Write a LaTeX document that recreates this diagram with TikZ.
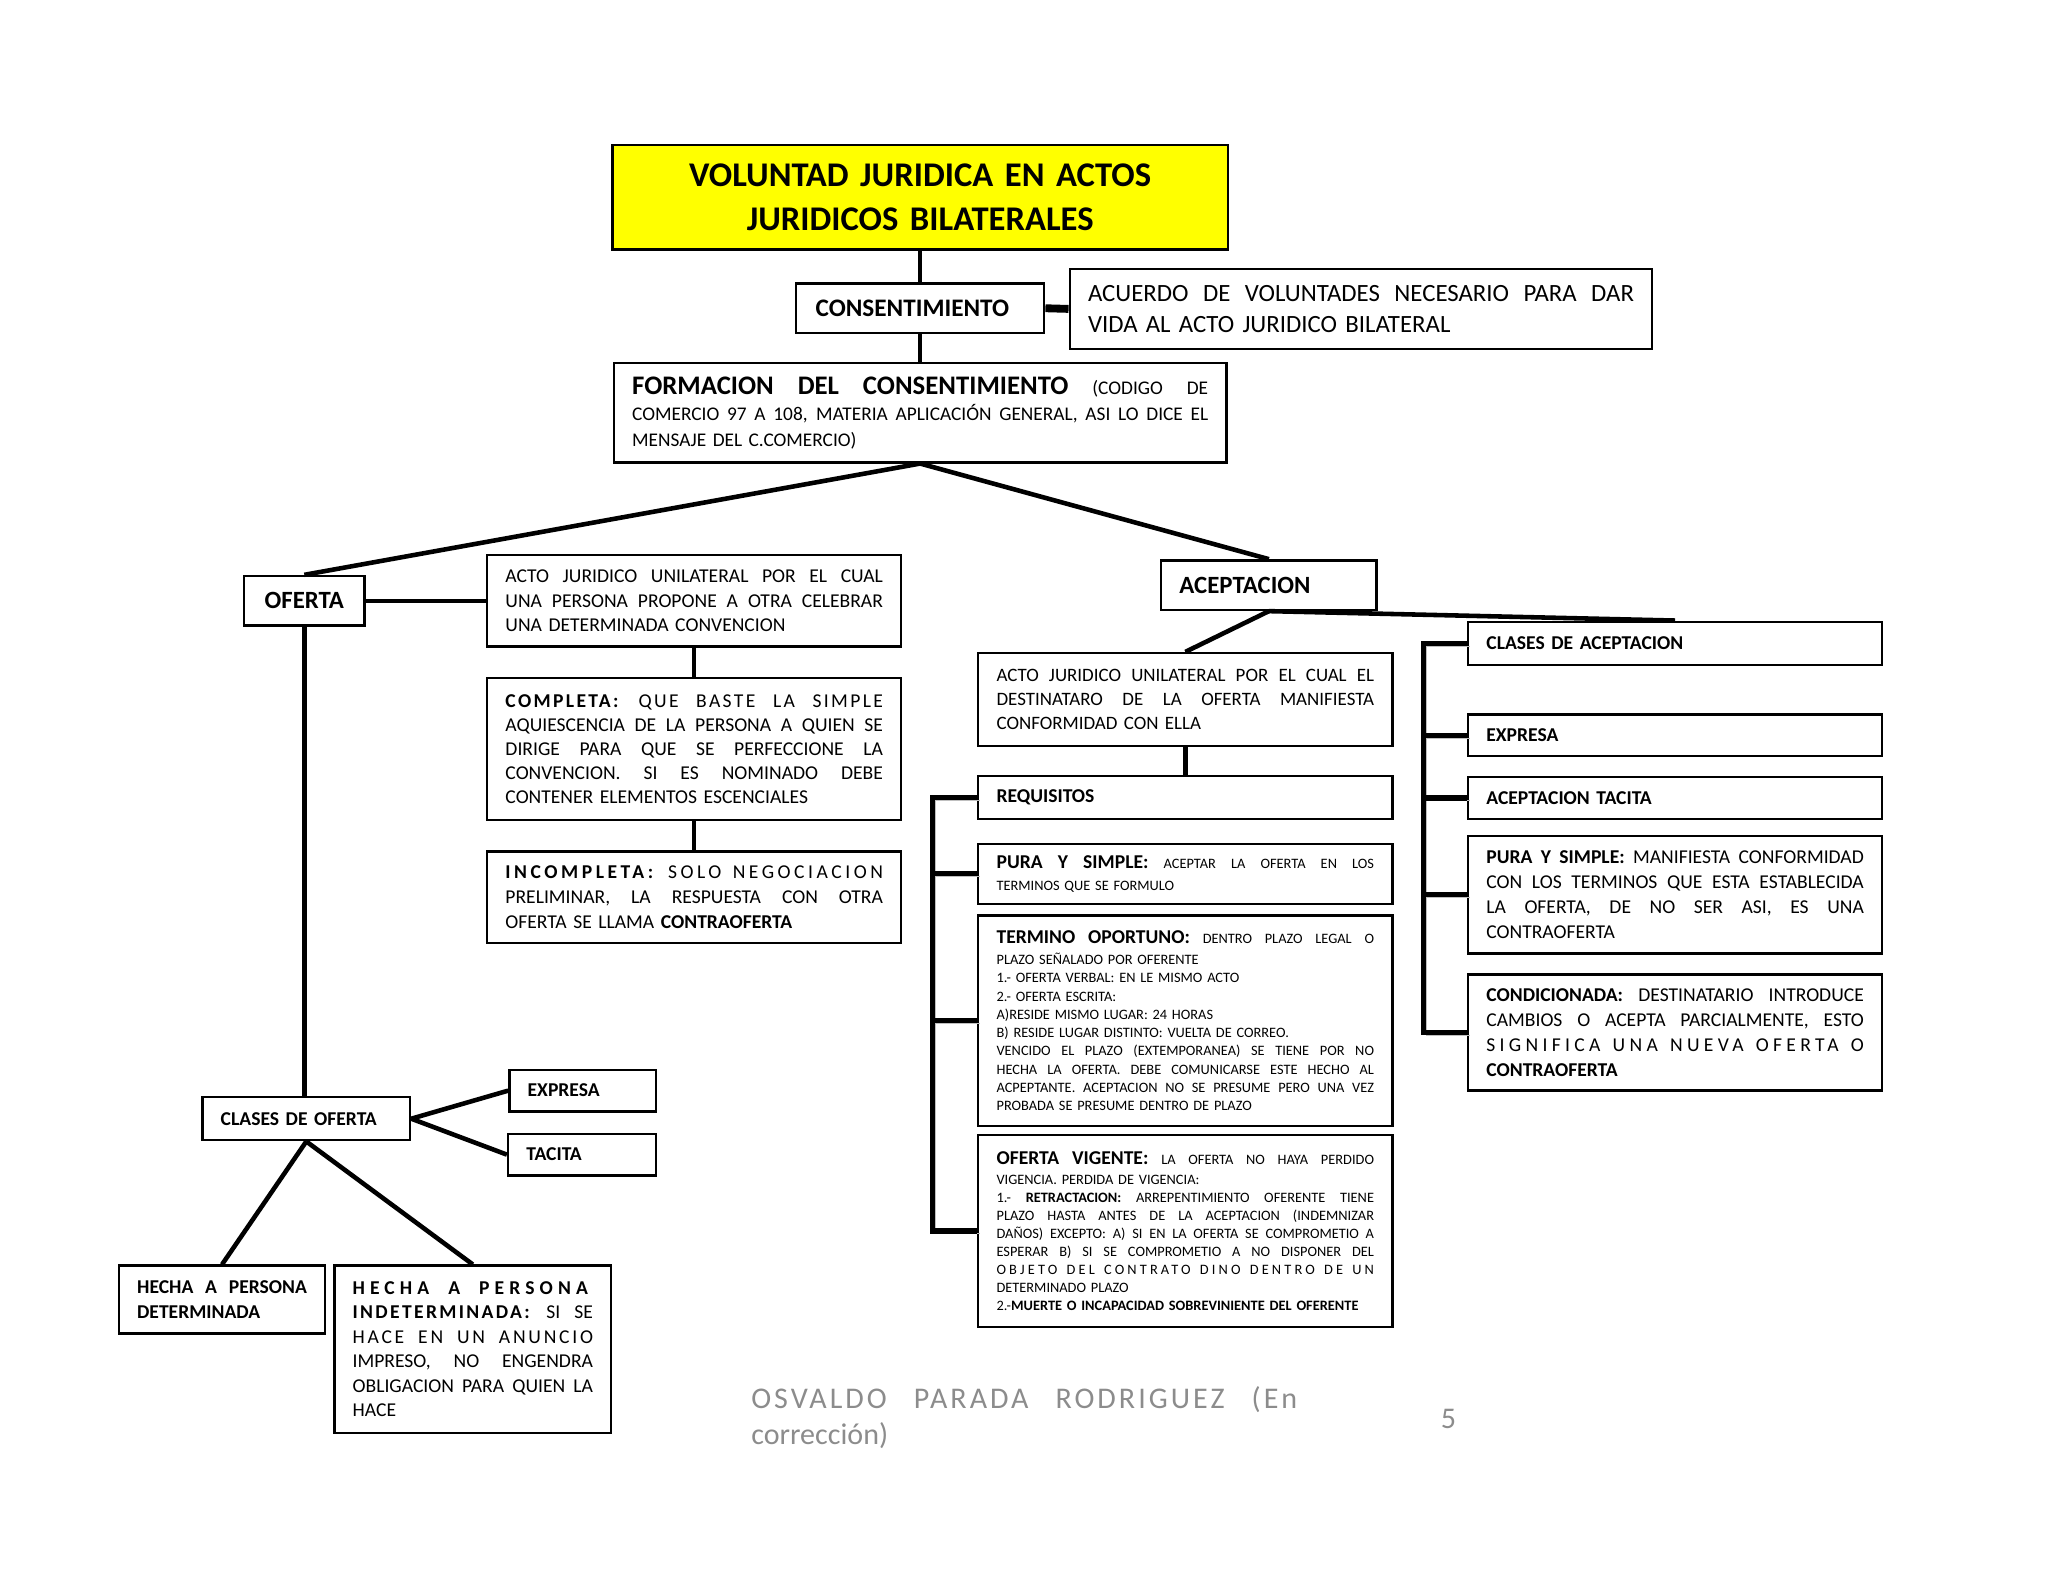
\documentclass[tikz,border=0pt]{standalone}
\usepackage{fontspec}
\setmainfont{Carlito}
\usetikzlibrary{positioning}
\definecolor{amarillo}{RGB}{255,255,0}
\definecolor{pie}{RGB}{140,140,140}
\newlength{\anchotexto}
\newcommand{\tam}[2]{\fontsize{#1}{#2}\selectfont}
\newcommand{\renglon}[1]{\leavevmode\hbox to \anchotexto{\spaceskip=\fontdimen2\font plus 1fil\relax #1}}
\newcommand{\espaciado}[2][10]{{\addfontfeatures{LetterSpace=#1}#2}}

\begin{document}
\begin{tikzpicture}[x=1pt, y=-1pt,
  caja/.style={draw, line width=1.8pt, fill=white, inner xsep=14pt, inner ysep=0pt, align=left, text width=#1,
    execute at begin node={\setlength{\anchotexto}{#1}}},
  caja/.default=289pt,
  etiqueta/.style={caja=#1, font=\bfseries\tam{15}{18}},
  conector/.style={line width=3.5pt},
  llave/.style={line width=4pt, preaction={draw=black!25, transform canvas={shift={(2,2)}}}}]
\useasboundingbox (0,0) rectangle (1568,1211);

% tronco
\node[caja=443pt, fill=amarillo, minimum height=80pt, align=center, font=\bfseries\tam{26.5}{33}] (titulo) at (704.5,151) {VOLUNTAD JURIDICA EN ACTOS\\JURIDICOS BILATERALES};
\node[caja=160pt, inner xsep=15pt, minimum height=38pt, font=\bfseries\tam{19.3}{22}] (consent) at (704.5,236) {CONSENTIMIENTO};
\node[caja=418pt, minimum height=61pt, font=\tam{19}{24}] (acuerdo) at (1042,236.5) {\renglon{ACUERDO DE VOLUNTADES NECESARIO PARA DAR}\\VIDA AL ACTO JURIDICO BILATERAL};
\node[caja=441pt, minimum height=76pt, font=\tam{14.8}{20}] (formacion) at (704.5,316) {\renglon{{\tam{20.5}{20}\bfseries FORMACION DEL CONSENTIMIENTO} (CODIGO DE}\\\renglon{COMERCIO 97 A 108, MATERIA APLICACIÓN GENERAL, ASI LO DICE EL}\\MENSAJE DEL C.COMERCIO)};

% oferta
\node[caja=64pt, minimum height=38pt, align=center, font=\bfseries\tam{19}{22}] (oferta) at (233,460) {OFERTA};
\node[caja, minimum height=70pt, font=\tam{15}{19}] (defoferta) at (531.5,460) {\renglon{ACTO JURIDICO UNILATERAL POR EL CUAL}\\\renglon{UNA PERSONA PROPONE A OTRA CELEBRAR}\\UNA DETERMINADA CONVENCION};
\node[caja, minimum height=109pt, font=\tam{15}{18.5}] (completa) at (531.5,573.5) {\renglon{\espaciado[12]{\textbf{COMPLETA:} QUE BASTE LA SIMPLE}}\\\renglon{AQUIESCENCIA DE LA PERSONA A QUIEN SE}\\\renglon{DIRIGE PARA QUE SE PERFECCIONE LA}\\\renglon{CONVENCION. SI ES NOMINADO DEBE}\\CONTENER ELEMENTOS ESCENCIALES};
\node[caja, minimum height=70pt, font=\tam{15}{19}] (incompleta) at (531.5,687) {\renglon{\espaciado[18]{\textbf{INCOMPLETA:} SOLO NEGOCIACION}}\\\renglon{PRELIMINAR, LA RESPUESTA CON OTRA}\\OFERTA SE LLAMA \textbf{CONTRAOFERTA}};
\node[etiqueta=131pt, minimum height=33pt] (clasesof) at (234.5,856.5) {CLASES DE OFERTA};
\node[etiqueta=84pt, minimum height=32pt] (expresaof) at (446,835) {EXPRESA};
\node[etiqueta=85pt, minimum height=32pt] (tacitaof) at (445.5,884) {TACITA};
\node[caja=130pt, minimum height=52pt, font=\bfseries\tam{15}{19}] (hechadet) at (170,995) {\renglon{HECHA A PERSONA}\\DETERMINADA};
\node[caja=184pt, minimum height=128pt, font=\tam{15}{18.8}] (hechaind) at (362,1033) {\renglon{\espaciado[26]{\textbf{HECHA A PERSONA}}}\\\renglon{\espaciado[12]{\textbf{INDETERMINADA:}} SI SE}\\\renglon{\espaciado[14]{HACE EN UN ANUNCIO}}\\\renglon{IMPRESO, NO ENGENDRA}\\\renglon{OBLIGACION PARA QUIEN LA}\\HACE};

% aceptacion
\node[caja=137pt, minimum height=38pt, font=\bfseries\tam{19}{22}] (aceptacion) at (971.5,448) {ACEPTACION};
\node[caja, minimum height=71pt, font=\tam{14.5}{18.5}] (actoacep) at (907.5,535.5) {\renglon{ACTO JURIDICO UNILATERAL POR EL CUAL EL}\\\renglon{DESTINATARO DE LA OFERTA MANIFIESTA}\\CONFORMIDAD CON ELLA};
\node[etiqueta, minimum height=33pt] (requisitos) at (907.5,610.5) {REQUISITOS};
\node[caja, minimum height=46pt, font=\tam{11}{17}] (purareq) at (907.5,669) {\renglon{{\tam{15}{17}\bfseries PURA Y SIMPLE:} ACEPTAR LA OFERTA EN LOS}\\TERMINOS QUE SE FORMULO};
\node[caja, minimum height=161pt, font=\tam{11}{14}] (termino) at (907.5,781.5) {\renglon{{\tam{15}{17}\bfseries TERMINO OPORTUNO:} DENTRO PLAZO LEGAL O}\\[2pt]PLAZO SEÑALADO POR OFERENTE\\1.- OFERTA VERBAL: EN LE MISMO ACTO\\2.- OFERTA ESCRITA:\\A)RESIDE MISMO LUGAR: 24 HORAS\\B) RESIDE LUGAR DISTINTO: VUELTA DE CORREO.\\\renglon{VENCIDO EL PLAZO (EXTEMPORANEA) SE TIENE POR NO}\\\renglon{HECHA LA OFERTA. DEBE COMUNICARSE ESTE HECHO AL}\\\renglon{ACPEPTANTE. ACEPTACION NO SE PRESUME PERO UNA VEZ}\\PROBADA SE PRESUME DENTRO DE PLAZO};
\node[caja, minimum height=147pt, font=\tam{11}{13.8}] (vigente) at (907.5,942.5) {\renglon{{\tam{15}{17}\bfseries OFERTA VIGENTE:} LA OFERTA NO HAYA PERDIDO}\\[2pt]VIGENCIA. PERDIDA DE VIGENCIA:\\\renglon{1.- \textbf{RETRACTACION:} ARREPENTIMIENTO OFERENTE TIENE}\\\renglon{PLAZO HASTA ANTES DE LA ACEPTACION (INDEMNIZAR}\\\renglon{DAÑOS) EXCEPTO: A) SI EN LA OFERTA SE COMPROMETIO A}\\\renglon{ESPERAR B) SI SE COMPROMETIO A NO DISPONER DEL}\\\renglon{\espaciado[22]{OBJETO DEL CONTRATO DINO DENTRO DE UN}}\\DETERMINADO PLAZO\\2.-\textbf{MUERTE O INCAPACIDAD SOBREVINIENTE DEL OFERENTE}};

% clases de aceptacion
\node[etiqueta, minimum height=33pt] (clasesacep) at (1282.5,492.5) {CLASES DE ACEPTACION};
\node[etiqueta, minimum height=32pt] (expresaacep) at (1282.5,563) {EXPRESA};
\node[etiqueta, minimum height=32pt] (tacitaacep) at (1282.5,611) {ACEPTACION TACITA};
\node[caja, minimum height=90pt, font=\tam{15}{19}] (puraacep) at (1282.5,685) {\renglon{\textbf{PURA Y SIMPLE:} MANIFIESTA CONFORMIDAD}\\\renglon{CON LOS TERMINOS QUE ESTA ESTABLECIDA}\\\renglon{LA OFERTA, DE NO SER ASI, ES UNA}\\CONTRAOFERTA};
\node[caja, minimum height=89pt, font=\tam{15}{19}] (condic) at (1282.5,790.5) {\renglon{\textbf{CONDICIONADA:} DESTINATARIO INTRODUCE}\\\renglon{CAMBIOS O ACEPTA PARCIALMENTE, ESTO}\\\renglon{\espaciado[22]{SIGNIFICA UNA NUEVA OFERTA O}}\\\textbf{CONTRAOFERTA}};

% pie de pagina
\node[anchor=north west, inner sep=0pt, text width=418pt, align=left, text=pie, font=\tam{23}{28},
  execute at begin node={\setlength{\anchotexto}{418pt}}] (autor) at (575,1061) {\renglon{\espaciado{OSVALDO PARADA RODRIGUEZ (En}}\\corrección)};
\node[text=pie, font=\tam{23}{28}] (pagina) at (1109,1086) {5};

% conectores
\draw[conector] (titulo.south) -- (consent.north);
\draw[conector, line width=6pt] (consent.east) -- (acuerdo.west);
\draw[conector] (consent.south) -- (formacion.north);
\draw[conector] (formacion.south) -- (oferta.north);
\draw[conector] (formacion.south) -- (aceptacion.north);
\draw[conector] (oferta.east) -- (defoferta.west);
\draw[conector] (defoferta.south) -- (completa.north);
\draw[conector] (completa.south) -- (incompleta.north);
\draw[conector] (oferta.south) -- (oferta.south |- clasesof.north);
\draw[conector] (clasesof.east) -- (expresaof.west);
\draw[conector] (clasesof.east) -- (tacitaof.west);
\draw[conector] (clasesof.south) -- (hechadet.north);
\draw[conector] (clasesof.south) -- (hechaind.north);
\draw[conector] (aceptacion.south) -- (actoacep.north);
\draw[conector] (aceptacion.south) -- (clasesacep.north);
\draw[conector] (actoacep.south) -- (requisitos.north);

% llaves
\coordinate (llaveizq) at (714,0);
\coordinate (llaveder) at (1090,0);
\draw[llave] (requisitos.west) -- (requisitos.west -| llaveizq) |- (vigente.west);
\foreach \n in {purareq,termino}
  \draw[llave] (\n.west) -- (\n.west -| llaveizq);
\draw[llave] (clasesacep.west) -- (clasesacep.west -| llaveder) |- (condic.west);
\foreach \n in {expresaacep,tacitaacep,puraacep}
  \draw[llave] (\n.west) -- (\n.west -| llaveder);
\end{tikzpicture}
\end{document}
